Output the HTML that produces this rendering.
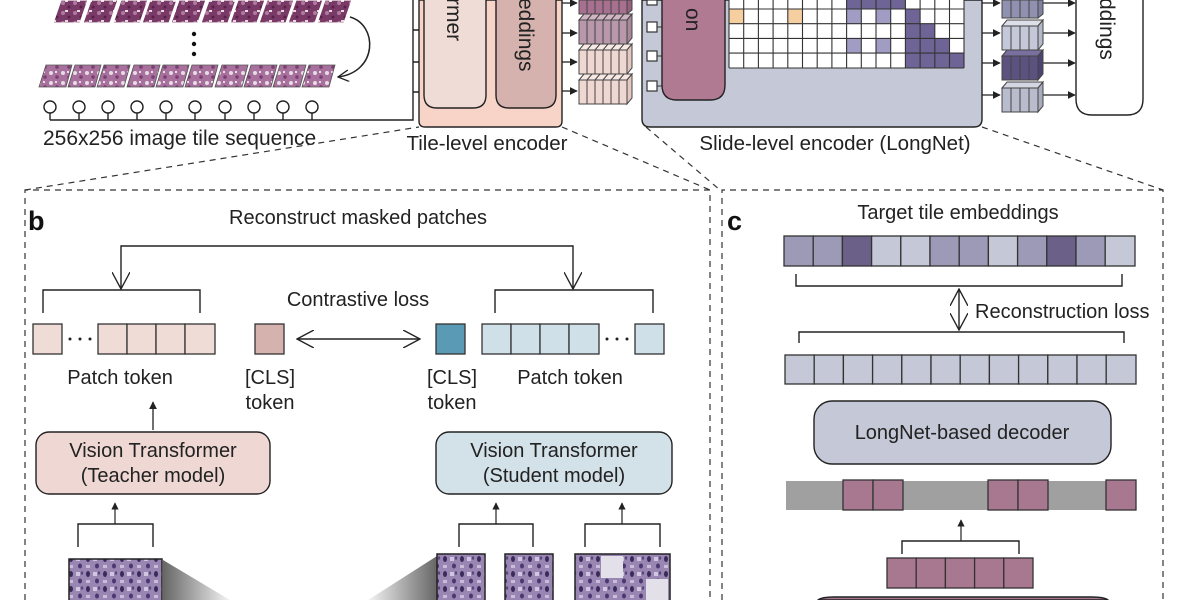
<!DOCTYPE html>
<html><head><meta charset="utf-8"><style>
html,body{margin:0;padding:0;background:#fff;width:1200px;height:600px;overflow:hidden;}
svg{display:block;font-family:"Liberation Sans",Arial,sans-serif;overflow:hidden;}
</style></head><body>
<svg width="1200" height="600" viewBox="0 0 1200 600" xmlns="http://www.w3.org/2000/svg">
<defs>
<pattern id="tileA" width="12" height="10" patternUnits="userSpaceOnUse">
<rect width="12" height="10" fill="#7a3a68"/><circle cx="3" cy="3" r="2" fill="#b07aa0"/><circle cx="9" cy="7" r="1.5" fill="#5a2048"/><rect x="5" y="0" width="3" height="2" fill="#e8d8e0"/>
</pattern>
<pattern id="tileB" width="12" height="10" patternUnits="userSpaceOnUse">
<rect width="12" height="10" fill="#a8709c"/><circle cx="3" cy="3" r="2" fill="#e8dce6"/><circle cx="9" cy="7" r="1.8" fill="#7a4070"/><circle cx="8" cy="2" r="1" fill="#fff"/>
</pattern>
<pattern id="histo" width="17" height="15" patternUnits="userSpaceOnUse">
<rect width="17" height="15" fill="#9a86b2"/><ellipse cx="3" cy="4" rx="2" ry="3" fill="#3a2a5a"/><ellipse cx="12" cy="11" rx="2" ry="2.5" fill="#4a3870"/><rect x="8" y="2" width="4" height="4" fill="#d0c6e0"/><rect x="1" y="10" width="4" height="3" fill="#c8bcda"/><ellipse cx="14" cy="3" rx="1.2" ry="1.8" fill="#5a4880"/>
</pattern>
<linearGradient id="gl" x1="0" y1="0" x2="1" y2="0"><stop offset="0" stop-color="#f4f4f4"/><stop offset="1" stop-color="#666"/></linearGradient>
<linearGradient id="gr" x1="0" y1="0" x2="1" y2="0"><stop offset="0" stop-color="#666"/><stop offset="1" stop-color="#f4f4f4"/></linearGradient>
<marker id="ah" viewBox="0 0 10 10" refX="9" refY="5" markerWidth="6" markerHeight="6" orient="auto"><path d="M0,0 L10,5 L0,10 z" fill="#222"/></marker>
<marker id="oa" viewBox="0 0 12 12" refX="11" refY="6" markerWidth="12" markerHeight="12" markerUnits="userSpaceOnUse" orient="auto-start-reverse"><path d="M0,0 L11,6 L0,12" fill="none" stroke="#222" stroke-width="1.3"/></marker>
<marker id="ob" viewBox="0 0 16 16" refX="15" refY="8" markerWidth="18" markerHeight="18" markerUnits="userSpaceOnUse" orient="auto-start-reverse"><path d="M0,0 L15,8 L0,16" fill="none" stroke="#222" stroke-width="1.2"/></marker>
</defs>

<g stroke="#fff" stroke-width="1.2">
<g fill="url(#tileA)">
<path d="M61,0 L88,0 L80,23 L53,23 Z"/><path d="M91,0 L118,0 L110,23 L83,23 Z"/><path d="M121,0 L148,0 L140,23 L113,23 Z"/><path d="M150,0 L177,0 L169,23 L142,23 Z"/><path d="M179,0 L206,0 L198,23 L171,23 Z"/><path d="M209,0 L236,0 L228,23 L201,23 Z"/><path d="M238,0 L265,0 L257,23 L230,23 Z"/><path d="M267,0 L294,0 L286,23 L259,23 Z"/><path d="M296,0 L323,0 L315,23 L288,23 Z"/><path d="M325,0 L352,0 L344,23 L317,23 Z"/>
</g>
<g fill="url(#tileB)" stroke="#555" stroke-width="0.8">
<path d="M46,65 L72,65 L66,87 L39,87 Z"/><path d="M75,65 L101,65 L95,87 L68,87 Z"/><path d="M104,65 L130,65 L124,87 L97,87 Z"/><path d="M134,65 L160,65 L154,87 L127,87 Z"/><path d="M163,65 L189,65 L183,87 L156,87 Z"/><path d="M192,65 L218,65 L212,87 L185,87 Z"/><path d="M222,65 L248,65 L242,87 L215,87 Z"/><path d="M251,65 L277,65 L271,87 L244,87 Z"/><path d="M280,65 L306,65 L300,87 L273,87 Z"/><path d="M309,65 L335,65 L329,87 L302,87 Z"/>
</g></g>
<circle cx="194" cy="34" r="2.2" fill="#111"/><circle cx="194" cy="44" r="2.2" fill="#111"/><circle cx="194" cy="54" r="2.2" fill="#111"/>
<path d="M350,17 C378,25 378,72 338,77" fill="none" stroke="#222" stroke-width="1.5" marker-end="url(#oa)"/>
<g stroke="#222" stroke-width="1.4" fill="#fff">
<path d="M50,120 L413,120 L413,0 M413,30 L419,30 M413,62 L419,62 M413,92 L419,92" fill="none"/>
<g>
<line x1="50" y1="113" x2="50" y2="120"/><line x1="79" y1="113" x2="79" y2="120"/><line x1="108" y1="113" x2="108" y2="120"/><line x1="137" y1="113" x2="137" y2="120"/><line x1="166" y1="113" x2="166" y2="120"/><line x1="195" y1="113" x2="195" y2="120"/><line x1="225" y1="113" x2="225" y2="120"/><line x1="254" y1="113" x2="254" y2="120"/><line x1="283" y1="113" x2="283" y2="120"/><line x1="312" y1="113" x2="312" y2="120"/>
<circle cx="50" cy="107" r="6"/><circle cx="79" cy="107" r="6"/><circle cx="108" cy="107" r="6"/><circle cx="137" cy="107" r="6"/><circle cx="166" cy="107" r="6"/><circle cx="195" cy="107" r="6"/><circle cx="225" cy="107" r="6"/><circle cx="254" cy="107" r="6"/><circle cx="283" cy="107" r="6"/><circle cx="312" cy="107" r="6"/>
</g></g>
<text x="43" y="145" font-size="21" fill="#222">256x256 image tile sequence</text>

<path d="M419,0 L562,0 L562,121 Q562,127 556,127 L425,127 Q419,127 419,121 Z" fill="#f8d3c8" stroke="#222" stroke-width="1.4"/>
<path d="M424,0 V95 Q424,108 437,108 H473 Q486,108 486,95 V0" fill="#f0dcd6" stroke="#222" stroke-width="1.4"/>
<path d="M496,0 V95 Q496,108 509,108 H543 Q556,108 556,95 V0" fill="#d6b2ae" stroke="#222" stroke-width="1.4"/>
<text transform="translate(447,-2) rotate(90)" font-size="21" fill="#222">rmer</text>
<text transform="translate(519,-2) rotate(90)" font-size="21" fill="#222">eddings</text>
<text x="487" y="150" font-size="20.5" text-anchor="middle" fill="#222">Tile-level encoder</text>
<g stroke="#222" stroke-width="1.3" marker-end="url(#ah)">
<line x1="562" y1="3" x2="577" y2="3"/><line x1="562" y1="33" x2="577" y2="33"/><line x1="562" y1="62" x2="577" y2="62"/><line x1="562" y1="91" x2="577" y2="91"/>
</g>
<g stroke="#444" stroke-width="1">
<rect x="579" y="0" width="48" height="14" fill="#a8708f"/><path d="M627,0 L632,0 L632,10 L627,14 Z" fill="#98607f"/>
<path d="M579,20 L584,14 L632,14 L627,20 Z" fill="#d0b4c4"/><rect x="579" y="20" width="48" height="24" fill="#b898aa"/><path d="M627,20 L632,14 L632,38 L627,44 Z" fill="#a88898"/>
<path d="M579,50 L584,44 L632,44 L627,50 Z" fill="#f8e8e4"/><rect x="579" y="50" width="48" height="24" fill="#f0d8d2"/><path d="M627,50 L632,44 L632,68 L627,74 Z" fill="#e4c8c2"/>
<path d="M579,80 L584,74 L632,74 L627,80 Z" fill="#f8e8e4"/><rect x="579" y="80" width="48" height="24" fill="#f0d8d2"/><path d="M627,80 L632,74 L632,98 L627,104 Z" fill="#e4c8c2"/>
<path d="M587,0V14M595,0V14M603,0V14M611,0V14M619,0V14 M587,20V44M595,20V44M603,20V44M611,20V44M619,20V44 M587,50V74M595,50V74M603,50V74M611,50V74M619,50V74 M587,80V104M595,80V104M603,80V104M611,80V104M619,80V104"/>
<path d="M587,20L592,14M595,20L600,14M603,20L608,14M611,20L616,14M619,20L624,14 M587,50L592,44M595,50L600,44M603,50L608,44M611,50L616,44M619,50L624,44 M587,80L592,74M595,80L600,74M603,80L608,74M611,80L616,74M619,80L624,74"/>
</g>

<path d="M642,0 L982,0 L982,119 Q982,127 974,127 L650,127 Q642,127 642,119 Z" fill="#c5c8d6" stroke="#222" stroke-width="1.4"/>
<g fill="#fff" stroke="#333" stroke-width="1.2"><rect x="647" y="0" width="10" height="5"/><rect x="647" y="22" width="10" height="10"/><rect x="647" y="51" width="10" height="10"/><rect x="647" y="81" width="10" height="10"/></g>
<path d="M657,27 H662 M657,56 H662 M657,86 H662" stroke="#333"/>
<path d="M662,0 V85 Q662,100 677,100 H710 Q725,100 725,85 V0" fill="#b07a92" stroke="#222" stroke-width="1.4"/>
<text transform="translate(686,8) rotate(90)" font-size="21" fill="#222">on</text>
<rect x="729" y="0" width="235" height="68" fill="#fff"/>
<g fill="#f6cfa0"><rect x="729" y="9" width="14.7" height="14.7"/><rect x="787.8" y="9" width="14.7" height="14.7"/></g>
<g fill="#a09cc4"><rect x="846.6" y="9" width="14.7" height="14.7"/><rect x="876" y="9" width="14.7" height="14.7"/><rect x="846.6" y="38.4" width="14.7" height="14.7"/><rect x="876" y="38.4" width="14.7" height="14.7"/></g>
<g fill="#6f6496"><rect x="846.6" y="0" width="58.8" height="9"/><rect x="905.4" y="9" width="14.7" height="14.7"/><rect x="905.4" y="23.7" width="29.4" height="14.7"/><rect x="905.4" y="38.4" width="44.1" height="14.7"/><rect x="905.4" y="53.1" width="58.8" height="14.9"/></g>
<g stroke="#333" stroke-width="1.1">
<path d="M729,0V68M743.7,0V68M758.4,0V68M773.1,0V68M787.8,0V68M802.5,0V68M817.2,0V68M831.9,0V68M846.6,0V68M861.3,0V68M876,0V68M890.7,0V68M905.4,0V68M920.1,0V68M934.8,0V68M949.5,0V68M964,0V68"/>
<path d="M729,9H964M729,23.7H964M729,38.4H964M729,53.1H964M729,68H964"/>
</g>
<text x="835" y="150" font-size="20.5" text-anchor="middle" fill="#222">Slide-level encoder (LongNet)</text>
<g stroke="#222" stroke-width="1.3" marker-end="url(#ah)">
<line x1="982" y1="3" x2="1000" y2="3"/><line x1="982" y1="33" x2="1000" y2="33"/><line x1="982" y1="63" x2="1000" y2="63"/><line x1="982" y1="95" x2="1000" y2="95"/>
<line x1="1043" y1="3" x2="1075" y2="3"/><line x1="1043" y1="33" x2="1075" y2="33"/><line x1="1043" y1="63" x2="1075" y2="63"/><line x1="1043" y1="95" x2="1075" y2="95"/>
</g>
<g stroke="#444" stroke-width="1">
<rect x="1002" y="0" width="36" height="18" fill="#9090b0"/><path d="M1038,0 L1043,0 L1043,14 L1038,18 Z" fill="#8080a0"/>
<path d="M1002,26 L1007,20 L1043,20 L1038,26 Z" fill="#dcdee8"/><rect x="1002" y="26" width="36" height="24" fill="#c5c8d8"/><path d="M1038,26 L1043,20 L1043,44 L1038,50 Z" fill="#b4b8c8"/>
<path d="M1002,56 L1007,50 L1043,50 L1038,56 Z" fill="#7a70a0"/><rect x="1002" y="56" width="36" height="24" fill="#5c5280"/><path d="M1038,56 L1043,50 L1043,74 L1038,80 Z" fill="#4c4470"/>
<path d="M1002,88 L1007,82 L1043,82 L1038,88 Z" fill="#d4d6e2"/><rect x="1002" y="88" width="36" height="24" fill="#b8bccc"/><path d="M1038,88 L1043,82 L1043,106 L1038,112 Z" fill="#a8acbc"/>
<path d="M1011,0V18M1020,0V18M1029,0V18 M1011,26V50M1020,26V50M1029,26V50 M1011,56V80M1020,56V80M1029,56V80 M1011,88V112M1020,88V112M1029,88V112"/>
</g>
<path d="M1076,0 V99 Q1076,115 1092,115 H1127 Q1143,115 1143,99 V0" fill="#fff" stroke="#222" stroke-width="1.4"/>
<text transform="translate(1100,-2) rotate(90)" font-size="21" fill="#222">ddings</text>

<g stroke="#333" stroke-width="1.2" stroke-dasharray="6,5" fill="none">
<line x1="25" y1="190" x2="419" y2="127"/>
<line x1="562" y1="127" x2="710" y2="190"/>
<line x1="646" y1="127" x2="720" y2="190"/>
<line x1="982" y1="127" x2="1163" y2="190"/>
<path d="M25,600 V190 H710 V600"/>
<path d="M722,600 V190 H1163 V600"/>
</g>

<text x="28" y="230" font-size="27" font-weight="bold" fill="#111">b</text>
<text x="358" y="224" font-size="20" text-anchor="middle" fill="#222">Reconstruct masked patches</text>
<path d="M121,289 V246 H573 V289" fill="none" stroke="#222" stroke-width="1.4" marker-start="url(#ob)" marker-end="url(#ob)"/>
<path d="M43,313 V290 H200 V313 M495,313 V290 H653 V313" fill="none" stroke="#222" stroke-width="1.4"/>
<text x="358" y="306" font-size="20" text-anchor="middle" fill="#222">Contrastive loss</text>
<g stroke="#333" stroke-width="1.3">
<rect x="33" y="324" width="29" height="30" fill="#f0dcd6"/>
<rect x="98" y="324" width="29" height="30" fill="#f0dcd6"/><rect x="127" y="324" width="29" height="30" fill="#f0dcd6"/><rect x="156" y="324" width="29" height="30" fill="#f0dcd6"/><rect x="185" y="324" width="30" height="30" fill="#f0dcd6"/>
<rect x="255" y="324" width="29" height="30" fill="#d6b2ae"/>
<rect x="436" y="324" width="29" height="30" fill="#5b9ab5"/>
<rect x="482" y="324" width="29" height="30" fill="#d0e0e8"/><rect x="511" y="324" width="29" height="30" fill="#d0e0e8"/><rect x="540" y="324" width="29" height="30" fill="#d0e0e8"/><rect x="569" y="324" width="30" height="30" fill="#d0e0e8"/>
<rect x="635" y="324" width="29" height="30" fill="#d0e0e8"/>
</g>
<g fill="#222"><circle cx="70" cy="339" r="1.5"/><circle cx="80" cy="339" r="1.5"/><circle cx="90" cy="339" r="1.5"/><circle cx="607" cy="339" r="1.5"/><circle cx="617" cy="339" r="1.5"/><circle cx="627" cy="339" r="1.5"/></g>
<line x1="297" y1="339" x2="420" y2="339" stroke="#222" stroke-width="1.4" marker-start="url(#ob)" marker-end="url(#ob)"/>
<g font-size="20" fill="#222" text-anchor="middle">
<text x="120" y="384">Patch token</text>
<text x="270" y="384">[CLS]</text><text x="270" y="409">token</text>
<text x="452" y="384">[CLS]</text><text x="452" y="409">token</text>
<text x="570" y="384">Patch token</text>
</g>
<line x1="153" y1="430" x2="153" y2="402" stroke="#222" stroke-width="1.3" marker-end="url(#ah)"/>
<rect x="36" y="432" width="234" height="62" rx="13" fill="#efd8d3" stroke="#222" stroke-width="1.4"/>
<text x="153" y="457" font-size="20" text-anchor="middle" fill="#222">Vision Transformer</text>
<text x="153" y="482" font-size="20" text-anchor="middle" fill="#222">(Teacher model)</text>
<rect x="436" y="432" width="236" height="62" rx="13" fill="#d3e1e8" stroke="#222" stroke-width="1.4"/>
<text x="554" y="457" font-size="20" text-anchor="middle" fill="#222">Vision Transformer</text>
<text x="554" y="482" font-size="20" text-anchor="middle" fill="#222">(Student model)</text>
<g stroke="#222" stroke-width="1.4" fill="none">
<path d="M78,547 V524 H153 V547"/><path d="M459,547 V524 H533 V547"/><path d="M585,547 V524 H660 V547"/>
</g>
<g stroke="#222" stroke-width="1.2" marker-end="url(#ah)">
<line x1="115" y1="524" x2="115" y2="503"/><line x1="496" y1="524" x2="496" y2="503"/><line x1="622" y1="524" x2="622" y2="503"/>
</g>
<path d="M163,560 L230,600 L163,600 Z" fill="url(#gr)"/>
<path d="M437,556 L437,600 L368,600 Z" fill="url(#gl)"/>
<g stroke="#222" stroke-width="1.5">
<path d="M69,600 V559 H162 V600" fill="url(#histo)"/>
<path d="M437,600 V554 H485 V600" fill="url(#histo)"/>
<path d="M505,600 V554 H553 V600" fill="url(#histo)"/>
<path d="M575,600 V554 H670 V600" fill="url(#histo)"/>
</g>
<rect x="601" y="556" width="22" height="22" fill="#e4e0ea"/><rect x="646" y="579" width="22" height="21" fill="#e4e0ea"/>

<text x="727" y="230" font-size="27" font-weight="bold" fill="#111">c</text>
<text x="958" y="219" font-size="20" text-anchor="middle" fill="#222">Target tile embeddings</text>
<g stroke="#333" stroke-width="1.3">
<rect x="784" y="236" width="29.2" height="30" fill="#9c9ab6"/><rect x="813.2" y="236" width="29.2" height="30" fill="#9c9ab6"/><rect x="842.4" y="236" width="29.2" height="30" fill="#6a6088"/><rect x="871.6" y="236" width="29.2" height="30" fill="#c5c8d6"/><rect x="900.8" y="236" width="29.2" height="30" fill="#c5c8d6"/><rect x="930" y="236" width="29.2" height="30" fill="#9c9ab6"/><rect x="959.2" y="236" width="29.2" height="30" fill="#9c9ab6"/><rect x="988.4" y="236" width="29.2" height="30" fill="#c5c8d6"/><rect x="1017.6" y="236" width="29.2" height="30" fill="#9c9ab6"/><rect x="1046.8" y="236" width="29.2" height="30" fill="#6a6088"/><rect x="1076" y="236" width="29.2" height="30" fill="#9c9ab6"/><rect x="1105.2" y="236" width="29.8" height="30" fill="#c5c8d6"/>
</g>
<path d="M796,274 V286 H1122 V274 M799,343 V332 H1124 V343" fill="none" stroke="#222" stroke-width="1.4"/>
<line x1="959" y1="289" x2="959" y2="330" stroke="#222" stroke-width="1.4" marker-start="url(#ob)" marker-end="url(#ob)"/>
<text x="975" y="318" font-size="20" fill="#222">Reconstruction loss</text>
<g stroke="#333" stroke-width="1.3" fill="#c5c8d6">
<rect x="785" y="355" width="29.2" height="29"/><rect x="814.2" y="355" width="29.2" height="29"/><rect x="843.4" y="355" width="29.2" height="29"/><rect x="872.6" y="355" width="29.2" height="29"/><rect x="901.8" y="355" width="29.2" height="29"/><rect x="931" y="355" width="29.2" height="29"/><rect x="960.2" y="355" width="29.2" height="29"/><rect x="989.4" y="355" width="29.2" height="29"/><rect x="1018.6" y="355" width="29.2" height="29"/><rect x="1047.8" y="355" width="29.2" height="29"/><rect x="1077" y="355" width="29.2" height="29"/><rect x="1106.2" y="355" width="29.8" height="29"/>
</g>
<rect x="814" y="401" width="297" height="63" rx="18" fill="#c5c8d6" stroke="#222" stroke-width="1.4"/>
<text x="962" y="439" font-size="20" text-anchor="middle" fill="#222">LongNet-based decoder</text>
<rect x="786" y="481" width="350" height="29" fill="#a0a0a0"/>
<g stroke="#333" stroke-width="1.3" fill="#a87890">
<rect x="843" y="480" width="30" height="30"/><rect x="873" y="480" width="30" height="30"/>
<rect x="988" y="480" width="30" height="30"/><rect x="1018" y="480" width="30" height="30"/>
<rect x="1106" y="480" width="30" height="30"/>
</g>
<line x1="961" y1="541" x2="961" y2="520" stroke="#222" stroke-width="1.2" marker-end="url(#ah)"/>
<path d="M902,554 V541 H1019 V554" fill="none" stroke="#222" stroke-width="1.4"/>
<g stroke="#333" stroke-width="1.3" fill="#a87890">
<rect x="887" y="558" width="29.2" height="30"/><rect x="916.2" y="558" width="29.2" height="30"/><rect x="945.4" y="558" width="29.2" height="30"/><rect x="974.6" y="558" width="29.2" height="30"/><rect x="1003.8" y="558" width="29.2" height="30"/>
</g>
<path d="M818,600 Q822,597 834,597 H1092 Q1104,597 1108,600 Z" fill="#a87890" stroke="#222" stroke-width="1.4"/>
</svg>
</body></html>
